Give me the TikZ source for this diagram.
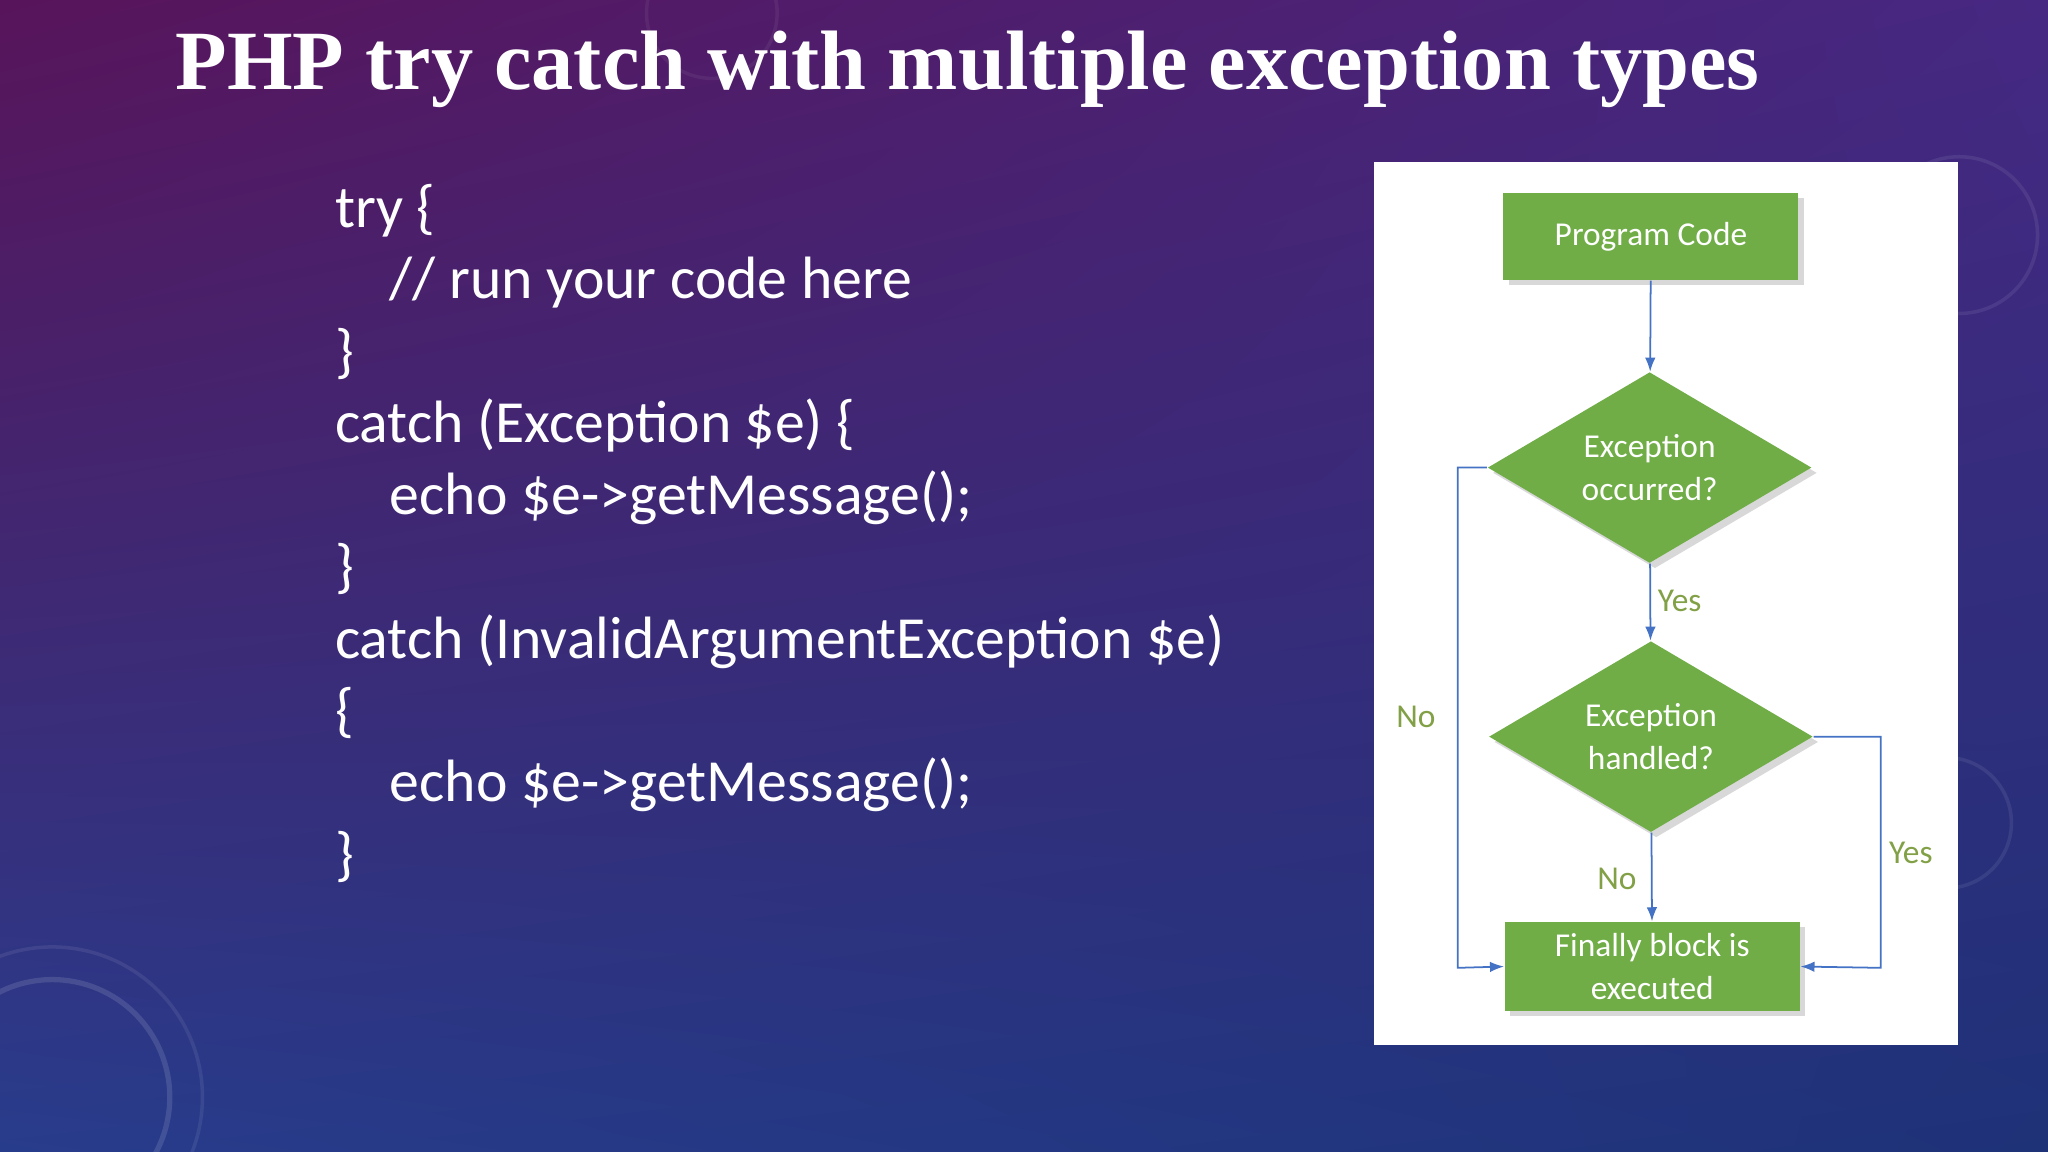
\documentclass[tikz,border=0pt]{standalone}
\usepackage{fontspec}
\setmainfont{Carlito}
\newfontfamily\titlefont{Liberation Serif}
\usetikzlibrary{shapes.geometric,positioning,arrows.meta,shadows,shadings}
\definecolor{bgpurple}{RGB}{88,20,90}
\definecolor{bgviolet}{RGB}{70,40,130}
\definecolor{bgblue}{RGB}{40,60,140}
\definecolor{bgdeep}{RGB}{30,50,120}
\definecolor{boxgreen}{RGB}{112,173,71}
\definecolor{lblgreen}{RGB}{130,160,70}
\definecolor{arrblue}{RGB}{68,114,196}
\begin{document}
\begin{tikzpicture}[x=0.01306cm,y=-0.01306cm]
\tikzstyle{blk}=[rectangle, fill=boxgreen, text=white, minimum width=2.95cm,
                 minimum height=0.87cm, align=center, font=\fontsize{9.5}{12}\selectfont,
                 drop shadow={opacity=0.3,shadow xshift=1.5pt,shadow yshift=-1.5pt}]
\tikzstyle{dec}=[diamond, fill=boxgreen, text=white, aspect=1.7, inner sep=0pt,
                 minimum width=3.24cm, minimum height=1.91cm, align=center,
                 font=\fontsize{9.5}{12}\selectfont,
                 drop shadow={opacity=0.3,shadow xshift=1.5pt,shadow yshift=-1.5pt}]
\tikzstyle{lbl}=[text=lblgreen, font=\fontsize{9.5}{12}\selectfont]
\tikzstyle{arr}=[arrblue, line width=0.5pt, -{Latex[length=4pt,width=3pt]}]
\tikzstyle{code}=[anchor=west, text=white, font=\fontsize{17}{20}\selectfont, inner sep=0pt]
% background
\shade[upper left=bgpurple, upper right=bgviolet, lower left=bgblue, lower right=bgdeep]
  (0,0) rectangle (1568,882);
\useasboundingbox (0,0) rectangle (1568,882);
\draw[white, opacity=0.12, line width=1.5pt] (40,840) circle (90);
\draw[white, opacity=0.08, line width=1pt] (40,840) circle (115);
\draw[white, opacity=0.08, line width=1pt] (1500,180) circle (60);
\draw[white, opacity=0.08, line width=1pt] (1490,630) circle (50);
\draw[white, opacity=0.06, line width=1pt] (545,10) circle (50);
% title
\node[text=white, font=\titlefont\bfseries\fontsize{24}{28}\selectfont, anchor=west, inner sep=0pt]
  (title) at (134,53) {PHP try catch with multiple exception types};
% code
\node[code] (c1) at (256,161) {try \{};
\node[code] (c2) at (298,216) {// run your code here};
\node[code] (c3) at (256,271) {\}};
\node[code] (c4) at (256,326) {catch (Exception \$e) \{};
\node[code] (c5) at (298,381) {echo \$e->getMessage();};
\node[code] (c6) at (256,436) {\}};
\node[code] (c7) at (256,491) {catch (InvalidArgumentException \$e)};
\node[code] (c8) at (256,546) {\{};
\node[code] (c9) at (298,601) {echo \$e->getMessage();};
\node[code] (c10) at (256,656) {\}};
% flowchart
\fill[white] (1052,124) rectangle (1499,800);
\node[blk] (P) at (1264,181) {Program Code};
\node[dec] (D1) at (1263,358) {Exception\\occurred?};
\node[dec] (D2) at (1264,564) {Exception\\handled?};
\node[blk] (F) at (1265,740) {Finally block is\\executed};
\coordinate (nl1) at (1116,358);
\coordinate (nl2) at (1116,741);
\coordinate (yr1) at (1440,564);
\coordinate (yr2) at (1440,741);
\draw[arr] (P) -- (D1);
\draw[arr] (D1) -- (D2);
\draw[arr] (D2) -- (F);
\draw[arr] (D1.west) -- (nl1) -- (nl2) -- (F.west);
\draw[arr] (D2.east) -- (yr1) -- (yr2) -- (F.east);
\node[lbl] (y1) at (1286,460) {Yes};
\node[lbl] (n1) at (1084,549) {No};
\node[lbl] (n2) at (1238,673) {No};
\node[lbl] (y2) at (1463,653) {Yes};
\end{tikzpicture}
\end{document}
